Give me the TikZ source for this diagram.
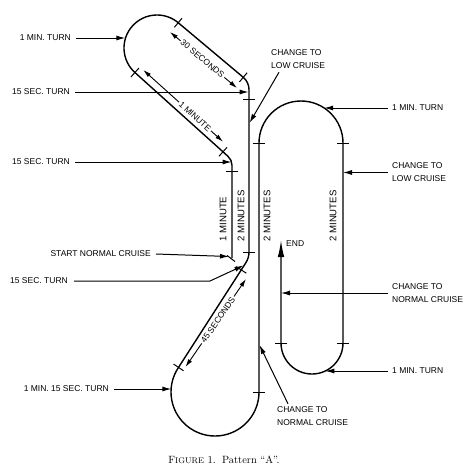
\documentclass[tikz,border=0pt]{standalone}
\usepackage{fontspec}
\usetikzlibrary{arrows.meta,calc}
\newfontfamily\labfont{Liberation Sans}
\newcommand{\lf}{\labfont\fontsize{8.5}{13}\selectfont}
\newcommand{\vlf}{\labfont\fontsize{9.6}{13}\selectfont}
\newcommand{\tk}[2]{\draw[tickmark] (#1) ++(#2:6) -- ++(#2:-12);}
\tikzset{
  route/.style={line width=1.4pt, line join=round},
  tickmark/.style={line width=1pt},
  ptr/.style={line width=1pt, -{Latex[length=9pt,width=5pt]}},
  dimln/.style={line width=0.9pt, {Latex[length=8pt,width=4.5pt]}-{Latex[length=8pt,width=4.5pt]}},
  labl/.style={font=\lf, inner sep=0pt, align=left},
  vlabl/.style={font=\vlf, inner sep=0pt},
  dimtxt/.style={font=\lf, fill=white, inner sep=1.5pt},
}
\begin{document}
\begin{tikzpicture}[x=1pt,y=-1pt]
\fill[white] (0,0) rectangle (474,474);
\useasboundingbox (0,0) rectangle (474,474);

% dimension lines
\coordinate (d30a) at (170,32);   \coordinate (d30b) at (237,88);
\coordinate (d1a) at (143.3,70);  \coordinate (d1b) at (223,141.7);
\coordinate (d45a) at (185.5,367); \coordinate (d45b) at (246,279);
\draw[dimln] (d30a) -- (d30b);
\draw[dimln] (d1a) -- (d1b);
\draw[dimln] (d45a) -- (d45b);
\node[dimtxt, rotate=-40] (t30) at (202.5,59) {30 SECONDS};
\node[dimtxt, rotate=-42] (t1) at (195,116.5) {1 MINUTE};
\node[dimtxt, rotate=55.5] (t45) at (218,320) {45 SECONDS};

% route
\coordinate (S) at (232,258);
\coordinate (L2) at (232,165.28);
\coordinate (T1) at (178.21,22.72);
\coordinate (T2) at (134.92,72.52);
\coordinate (U1) at (243.28,77.32);
\coordinate (D1) at (249,252);
\coordinate (T3) at (178.52,367.40);
\coordinate (R1) at (259,143);
\coordinate (R2) at (343,343);
\coordinate (E) at (281,240);
\draw[route, -{Latex[length=17pt,width=6.5pt]}] (S) -- (L2)
  arc[start angle=0,end angle=-48,radius=12] -- (T2)
  arc[start angle=132,end angle=310,radius=33] -- (U1)
  arc[start angle=-50,end angle=0,radius=16] -- (D1)
  arc[start angle=0,end angle=34,radius=20] -- (T3)
  arc[start angle=214,end angle=0,radius=44] -- (R1)
  arc[start angle=180,end angle=360,radius=42] -- (R2)
  arc[start angle=0,end angle=180,radius=31] -- (E);

% ticks
\tk{T1}{130}
\tk{T2}{132}
\tk{U1}{130}
\tk{249,99}{0}
\tk{223,151.8}{132}
\tk{232,171}{0}
\draw[tickmark] (231,258.5) ++(37:5) -- ++(37:-10);
\tk{D1}{0}
\tk{241.25,269.9}{33}
\tk{T3}{34}
\tk{259,392}{0}
\tk{R1}{0}
\tk{343,143}{0}
\tk{R2}{0}
\tk{281,343}{0}

% labels
\node[labl, anchor=east] (lA) at (71,38) {1 MIN. TURN};
\node[labl, anchor=east] (lB) at (70,92) {15 SEC. TURN};
\node[labl, anchor=east] (lC) at (70,162) {15 SEC. TURN};
\node[labl, anchor=east] (lD) at (151,254) {START NORMAL CRUISE};
\node[labl, anchor=east] (lE) at (68,281) {15 SEC. TURN};
\node[labl, anchor=east] (lF) at (109,389) {1 MIN. 15 SEC. TURN};
\node[labl, anchor=west] (lG) at (392,108) {1 MIN. TURN};
\node[labl, anchor=west] (lH) at (392,172.5) {CHANGE TO\\LOW CRUISE};
\node[labl, anchor=west] (lI) at (392,293) {CHANGE TO\\NORMAL CRUISE};
\node[labl, anchor=west] (lJ) at (392,371) {1 MIN. TURN};
\node[labl, anchor=west] (lK) at (271,59.5) {CHANGE TO\\LOW CRUISE};
\node[labl, anchor=west] (lM) at (277,416.5) {CHANGE TO\\NORMAL CRUISE};
\node[labl, anchor=west] (lEnd) at (286,244) {END};

\node[vlabl, rotate=90] (v1) at (223,219) {1 MINUTE};
\node[vlabl, rotate=90] (v2) at (241,216) {2 MINUTES};
\node[vlabl, rotate=90] (v3) at (267,216) {2 MINUTES};
\node[vlabl, rotate=90] (v4) at (333,216) {2 MINUTES};

% pointer targets
\coordinate (pA) at (125.3,38);
\coordinate (pB) at (248.5,92);
\coordinate (pC) at (231.5,162);
\coordinate (pD) at (229,256.5);
\coordinate (kE) at (210,281);
\coordinate (pE) at (243.5,265.5);
\coordinate (pF) at (171.3,389);
\coordinate (pG) at (324.2,108);
\coordinate (pH) at (343,172.5);
\coordinate (pI) at (281,293);
\coordinate (pJ) at (325.3,371);
\coordinate (pK) at (249.5,123);
\coordinate (pM) at (259.5,345);

\draw[ptr] ([xshift=5pt]lA.east) -- (pA);
\draw[ptr] ([xshift=5pt]lB.east) -- (pB);
\draw[ptr] ([xshift=5pt]lC.east) -- (pC);
\draw[ptr] ([xshift=5pt]lD.east) -- (pD);
\draw[ptr] ([xshift=6pt]lE.east) -- (kE) -- (pE);
\draw[ptr] ([xshift=5pt]lF.east) -- (pF);
\draw[ptr] ([xshift=-4pt]lG.west) -- (pG);
\draw[ptr] ([xshift=-4pt]lH.west) -- (pH);
\draw[ptr] ([xshift=-4pt]lI.west) -- (pI);
\draw[ptr] ([xshift=-4pt]lJ.west) -- (pJ);
\draw[ptr] ([shift={(8pt,-3pt)}]lK.south west) -- (pK);
\draw[ptr] ([shift={(11pt,3pt)}]lM.north west) -- (pM);

% caption
\node[font=\fontsize{10.5}{12}\selectfont] (cap) at (224,460)
  {F{\fontsize{8.2}{10}\selectfont IGURE} 1.\hspace{0.6em}Pattern “A”.};
\end{tikzpicture}
\end{document}
